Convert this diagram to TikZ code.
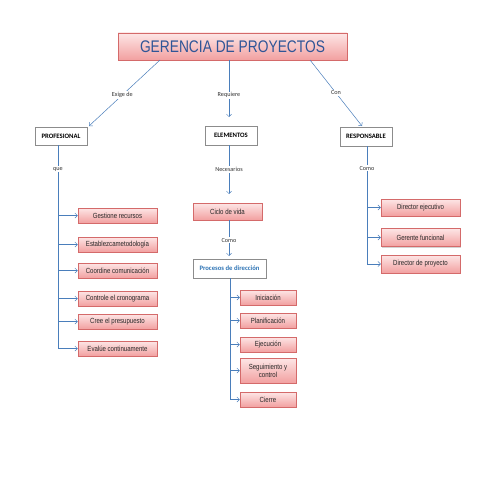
\documentclass[tikz,border=0pt]{standalone}
\usepackage{fontspec}
\setmainfont{Liberation Sans}
\newfontfamily\narrowf[FakeStretch=0.82]{Liberation Sans}
\newfontfamily\calib{Carlito}
\usetikzlibrary{arrows.meta,shadows}
\definecolor{conn}{HTML}{4A7EBB}
\definecolor{ttl}{HTML}{2F5597}
\definecolor{pinkT}{HTML}{FDE6E6}
\definecolor{pinkB}{HTML}{F2A0A0}
\definecolor{pinkD}{HTML}{D46A6A}
\definecolor{procb}{HTML}{2E74B5}
\tikzset{
  pinkbox/.style={draw=pinkD, line width=0.5pt, top color=pinkT, bottom color=pinkB,
    inner sep=0pt, align=center, font=\narrowf\fontsize{7.4}{8.2}\selectfont, text=black!85,
    drop shadow={shadow xshift=1pt, shadow yshift=-1pt, opacity=0.35, fill=black!50}},
  whitebox/.style={draw=black!45, line width=0.5pt, fill=white, inner sep=0pt,
    font=\calib\bfseries\fontsize{6.7}{7.5}\selectfont},
  lbl/.style={fill=white, inner sep=1pt, font=\calib\fontsize{6.2}{7}\selectfont, text=black!80},
  conline/.style={draw=conn, line width=0.5pt},
  arr/.style={conline, -{Straight Barb[length=2.5pt,width=5pt]}}
}
\begin{document}
\begin{tikzpicture}[x=1pt,y=-1pt]
\useasboundingbox (0,0) rectangle (495,495);
% title
\node[pinkbox, minimum width=229, minimum height=27,
  font=\narrowf\fontsize{16.8}{18}\selectfont, text=ttl] (title) at (232.5,46.5) {GERENCIA DE PROYECTOS};
% level 1
\node[whitebox, minimum width=52, minimum height=18] (prof) at (61,136) {PROFESIONAL};
\node[whitebox, minimum width=52, minimum height=19] (elem) at (231,135.5) {ELEMENTOS};
\node[whitebox, minimum width=52, minimum height=19] (resp) at (366,136.5) {RESPONSABLE};
\coordinate (t1) at (160,60);
\coordinate (t2) at (229,60);
\coordinate (t3) at (310,60);
\coordinate (p1) at (89,126);
\coordinate (e1) at (229,117);
\coordinate (r1) at (362,126);
\draw[arr] (t1) -- node[lbl, pos=0.53] {Exige de} (p1);
\draw[arr] (t2) -- node[lbl, pos=0.62] {Requiere} (e1);
\draw[arr] (t3) -- node[lbl, pos=0.5] {Con} (r1);
% left column
\node[pinkbox, minimum width=79, minimum height=15] (g1) at (117.5,215.5) {Gestione recursos};
\node[pinkbox, minimum width=79, minimum height=15] (g2) at (117.5,244.5) {Establezcametodología};
\node[pinkbox, minimum width=79, minimum height=15] (g3) at (117.5,270.5) {Coordine comunicación};
\node[pinkbox, minimum width=79, minimum height=15] (g4) at (117.5,298.5) {Controle el cronograma};
\node[pinkbox, minimum width=79, minimum height=15] (g5) at (117.5,321.5) {Cree el presupuesto};
\node[pinkbox, minimum width=79, minimum height=15] (g6) at (117.5,348.5) {Evalúe continuamente};
\coordinate (qtop) at (58,145);
\coordinate (qend) at (58,348.5);
\draw[conline] (qtop) -- node[lbl, pos=0.12] {que} (qend);
\foreach \n in {g1,g2,g3,g4,g5,g6} \draw[arr] (qtop |- \n.west) -- (\n.west);
% middle column
\node[pinkbox, minimum width=69, minimum height=17] (ciclo) at (227.5,211.5) {Ciclo de vida};
\node[whitebox, minimum width=73, minimum height=19, text=procb] (proc) at (229.5,268.5) {Procesos de dirección};
\coordinate (c1) at (229,194);
\coordinate (c2) at (229,145);
\coordinate (c3) at (229,220);
\coordinate (c4) at (229,256);
\draw[arr] (c2) -- node[lbl, pos=0.5] {Necesarios} (c1);
\draw[arr] (c3) -- node[lbl, pos=0.56] {Como} (c4);
\node[pinkbox, minimum width=56, minimum height=15] (m1) at (268,297.5) {Iniciación};
\node[pinkbox, minimum width=56, minimum height=15] (m2) at (268,320.5) {Planificación};
\node[pinkbox, minimum width=56, minimum height=15] (m3) at (268,344.5) {Ejecución};
\node[pinkbox, minimum width=56, minimum height=25] (m4) at (268,370.5) {Seguimiento y\\control};
\node[pinkbox, minimum width=56, minimum height=15] (m5) at (268,399.5) {Cierre};
\coordinate (mtop) at (230,278);
\coordinate (mend) at (230,399.5);
\draw[conline] (mtop) -- (mend);
\foreach \n in {m1,m2,m3,m4,m5} \draw[arr] (mtop |- \n.west) -- (\n.west);
% right column
\node[pinkbox, minimum width=79, minimum height=17] (r1b) at (420.5,207.5) {Director ejecutivo};
\node[pinkbox, minimum width=79, minimum height=18] (r2b) at (420.5,237.5) {Gerente funcional};
\node[pinkbox, minimum width=79, minimum height=18] (r3b) at (420.5,264) {Director de proyecto};
\coordinate (rtop) at (367,146);
\coordinate (rend) at (367,264);
\draw[conline] (rtop) -- node[lbl, pos=0.19] {Como} (rend);
\foreach \n in {r1b,r2b,r3b} \draw[arr] (rtop |- \n.west) -- (\n.west);
\end{tikzpicture}
\end{document}
